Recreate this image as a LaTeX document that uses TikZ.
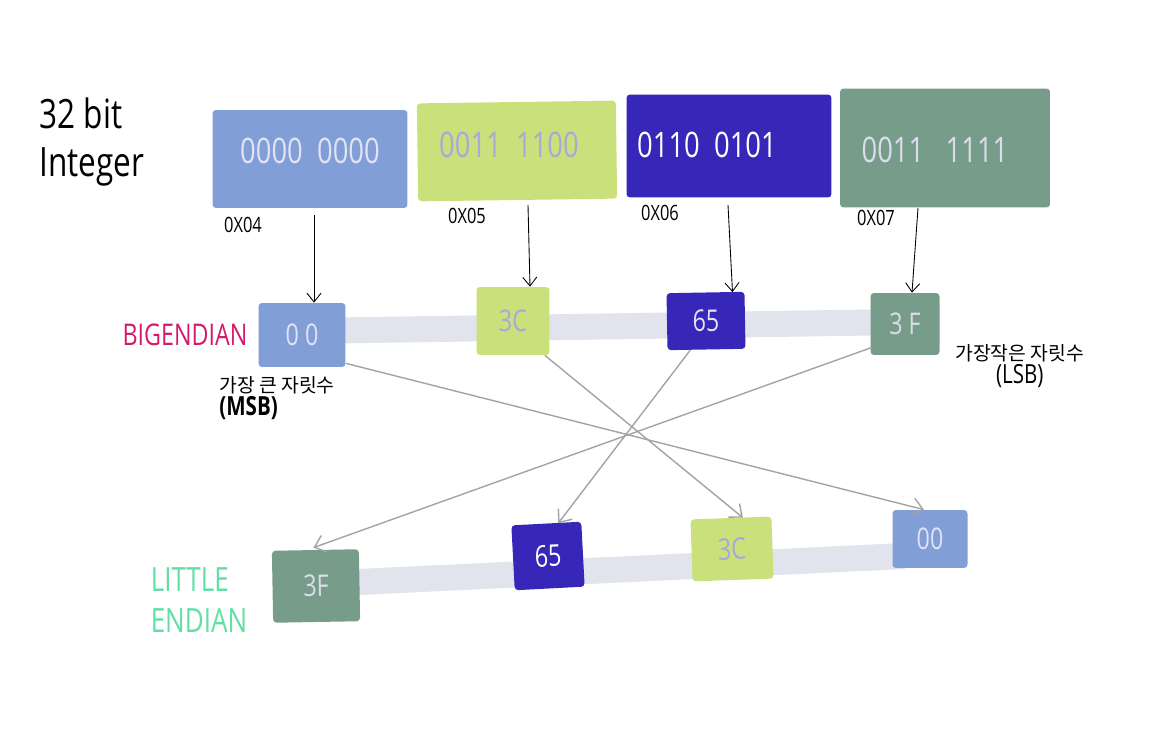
\documentclass[tikz,border=0pt]{standalone}
\usepackage{fontspec}
\setmainfont{Open Sans}
\newfontfamily\hand[FakeStretch=0.78]{Open Sans}
\newfontfamily\kr{Noto Sans CJK KR}
\usetikzlibrary{arrows.meta,calc,backgrounds}
\definecolor{cblue}{HTML}{819FD6}
\definecolor{clime}{HTML}{C9E07B}
\definecolor{cindigo}{HTML}{3627B8}
\definecolor{cgreen}{HTML}{779C89}
\definecolor{cband}{HTML}{E1E3ED}
\definecolor{cmag}{HTML}{D4186C}
\definecolor{cteal}{HTML}{62DFA4}
\definecolor{cline}{HTML}{A3A3A3}
\definecolor{tblue}{HTML}{E2E2F6}
\definecolor{tlime}{HTML}{A8A8DA}
\definecolor{tgreen}{HTML}{DADDEB}
\tikzset{
  box/.style={rounded corners=2pt, inner sep=0pt, align=center},
  toptext/.style={font=\hand\fontsize{20}{22}\selectfont, inner sep=0pt},
  smallbox/.style={box, font=\hand\fontsize{17}{19}\selectfont},
  addr/.style={font=\hand\fontsize{12}{14}\selectfont, inner sep=0pt},
  downarrow/.style={draw=black, line width=0.5pt, -{Straight Barb[length=5pt,width=8pt]}},
  crossline/.style={draw=cline, line width=0.8pt, -{Straight Barb[length=6pt,width=10pt]}},
  bandline/.style={draw=cband, line width=0.52cm},
  note/.style={font=\kr\fontsize{11}{14}\selectfont, inner sep=0pt}
}
\begin{document}
\begin{tikzpicture}[x=0.02cm,y=-0.02cm]
\useasboundingbox (0,0) rectangle (1160,750);

% title
\node[font=\hand\fontsize{23}{27}\selectfont, align=left, inner sep=0pt] (title) at (92,142) {32 bit\\Integer};

% top boxes
\node[box, fill=cblue, minimum width=3.9cm, minimum height=1.96cm] (t1) at (310,159) {};
\node[box, fill=clime, minimum width=3.98cm, minimum height=1.96cm, rotate=0.8] (t2) at (517,151) {};
\node[box, fill=cindigo, minimum width=4.1cm, minimum height=2.06cm] (t3) at (729,146) {};
\node[box, fill=cgreen, minimum width=4.2cm, minimum height=2.38cm] (t4) at (945,148) {};
\node[toptext, text=tblue] (t1x) at ($(t1.center)+(0,-8)$) {0000\ \ 0000};
\node[toptext, text=tlime] (t2x) at ($(t2.center)+(-8,-6)$) {0011\ \ 1100};
\node[toptext, text=white] (t3x) at ($(t3.center)+(-22,-1)$) {0110\ \ 0101};
\node[toptext, text=tgreen] (t4x) at ($(t4.center)+(-10,2)$) {0011\ \ \ 1111};

% addresses
\node[addr] (a4) at (243,225) {0X04};
\node[addr] (a5) at (467,216) {0X05};
\node[addr] (a6) at (660,213) {0X06};
\node[addr] (a7) at (876,218) {0X07};

% big endian row
\node[smallbox, fill=cblue, text=tblue, minimum width=1.74cm, minimum height=1.28cm] (b00) at (302,335) {0\ 0};
\node[smallbox, fill=clime, text=tlime, minimum width=1.46cm, minimum height=1.36cm] (b3C) at (513,321) {3C};
\node[smallbox, fill=cindigo, text=tblue, minimum width=1.56cm, minimum height=1.14cm, rotate=1] (b65) at (706,321) {65};
\node[smallbox, fill=cgreen, text=tgreen, minimum width=1.38cm, minimum height=1.24cm] (b3F) at (905,324) {3\ F};

% little endian row
\node[smallbox, fill=cgreen, text=tgreen, minimum width=1.74cm, minimum height=1.44cm, rotate=1] (l3F) at (316,586) {3F};
\node[smallbox, fill=cindigo, text=white, minimum width=1.4cm, minimum height=1.3cm, rotate=3] (l65) at (548,556) {65};
\node[smallbox, fill=clime, text=tlime, minimum width=1.62cm, minimum height=1.24cm, rotate=2] (l3C) at (732,549) {3C};
\node[smallbox, fill=cblue, text=tblue, minimum width=1.5cm, minimum height=1.16cm] (l00) at (930,539) {00};

% bands
\begin{pgfonlayer}{background}
\draw[bandline] ($(b00.center)+(0,-4)$) -- ($(b3F.center)+(0,-2)$);
\draw[bandline] ($(l3F.center)+(0,-2)$) -- ($(l00.west)+(12,17)$);
\end{pgfonlayer}

% labels
\node[font=\hand\fontsize{17}{19}\selectfont, text=cmag, inner sep=0pt] (big) at (185,335) {BIGENDIAN};
\node[font=\hand\fontsize{19}{23}\selectfont, text=cteal, align=left, inner sep=0pt] (little) at (199,600) {LITTLE\\ENDIAN};
\node[note, anchor=north west, align=left] (msb) at (219,376) {가장 큰 자릿수\\[-1pt]{\hand\fontsize{15}{17}\selectfont\bfseries (MSB)}};
\node[note, anchor=north west, align=center] (lsb) at (955,344) {가장작은 자릿수\\[-1pt]{\hand\fontsize{15}{17}\selectfont (LSB)}};

% down arrows
\coordinate (s1) at (314,215);
\coordinate (s2) at (528,205);
\coordinate (s3) at (728,205);
\coordinate (s4) at (918,208);
\draw[downarrow] (s1) -- (s1 |- b00.north);
\draw[downarrow] (s2) -- ($(b3C.north)+(17,0)$);
\draw[downarrow] (s3) -- ($(b65.north)+(27,0)$);
\draw[downarrow] (s4) -- ($(b3F.north)+(7,0)$);

% cross lines
\draw[crossline] ($(b00.south east)+(0,-4)$) -- ($(l00.north)+(-6,0)$);
\draw[crossline] ($(b3C.south east)+(-5,0)$) -- ($(l3C.north)+(12,0)$);
\draw[crossline] ($(b65.south)+(-16,0)$) -- ($(l65.north)+(12,0)$);
\draw[crossline] ($(b3F.south west)+(2,-8)$) -- ($(l3F.north)+(-2,-2)$);
\end{tikzpicture}
\end{document}
